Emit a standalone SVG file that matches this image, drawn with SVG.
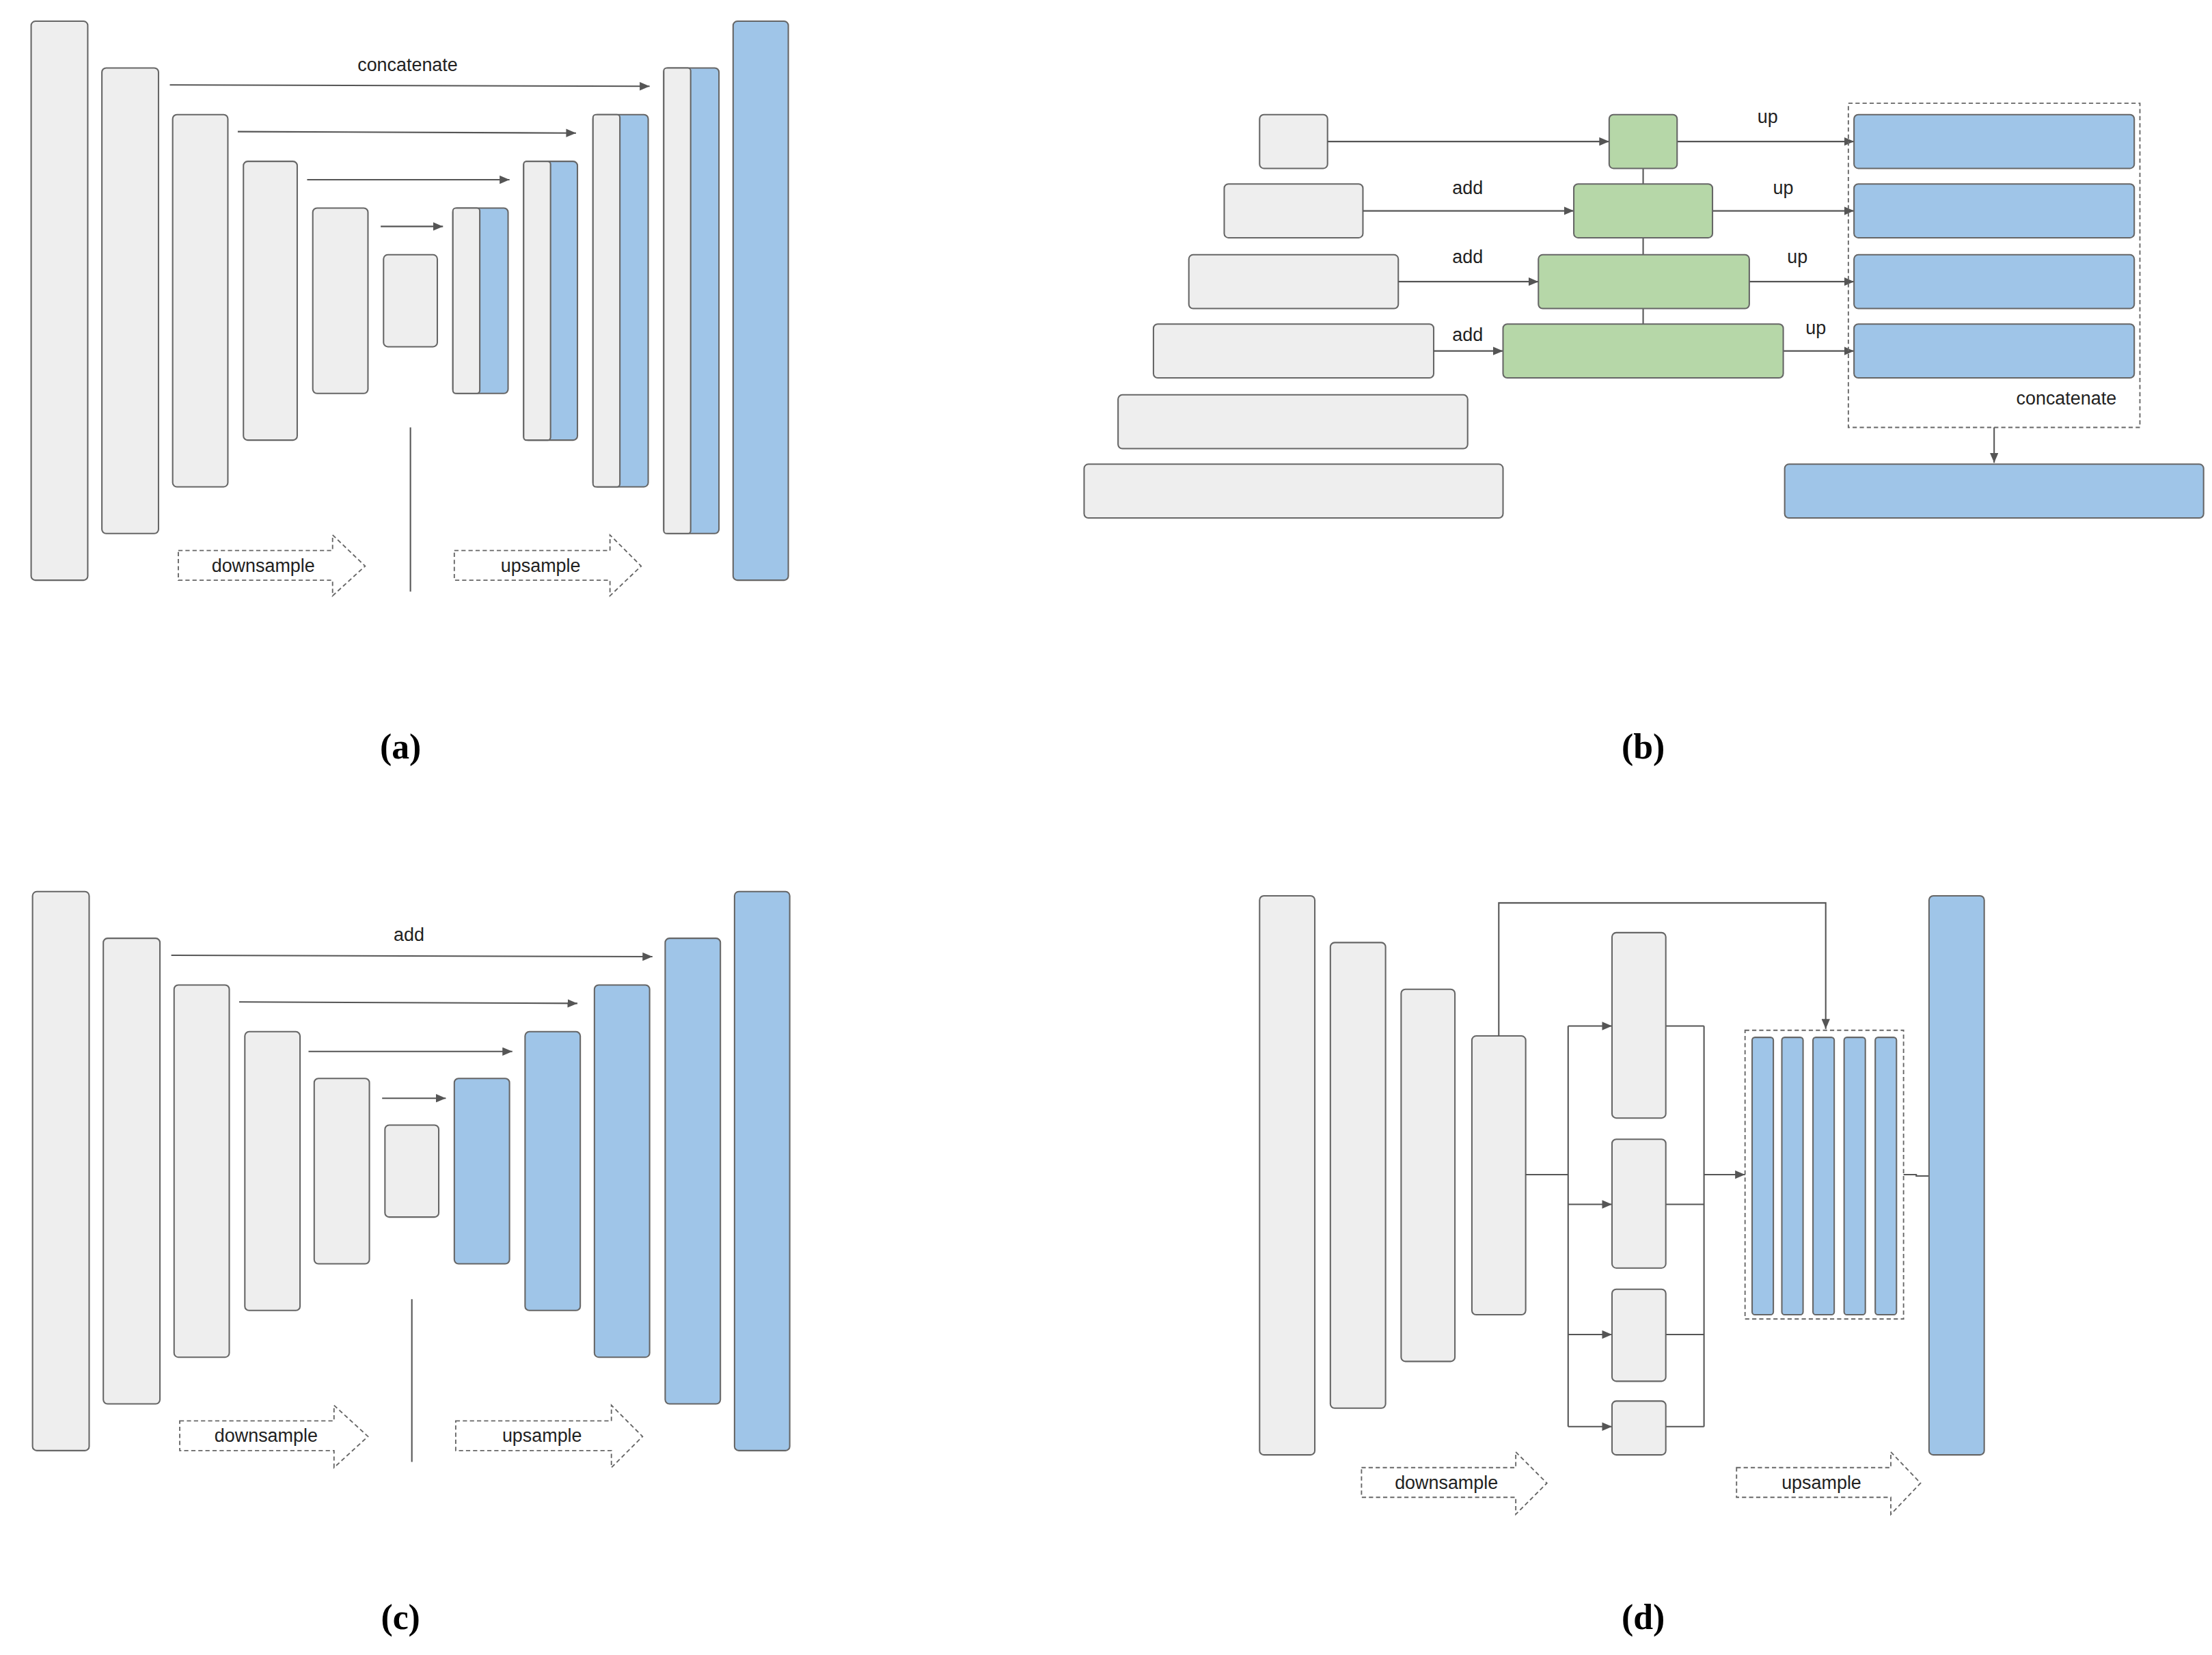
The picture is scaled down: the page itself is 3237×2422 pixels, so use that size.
<svg xmlns="http://www.w3.org/2000/svg" width="3237" height="2422" viewBox="0 0 3237 2422">
<style>
.g{fill:#eeeeee;stroke:#666;stroke-width:1}
.b{fill:#9fc5e8;stroke:#666;stroke-width:1}
.gr{fill:#b6d7a8;stroke:#666;stroke-width:1}
.l{fill:none;stroke:#555;stroke-width:1}
.d{fill:none;stroke:#666;stroke-width:0.9;stroke-dasharray:3,2}
.t{font-family:"Liberation Sans",Arial,sans-serif;font-size:13px;fill:#222;text-anchor:middle}
.c{font-family:"Liberation Serif","Times New Roman",serif;font-size:25px;font-weight:bold;fill:#000;text-anchor:middle}
</style>
<defs>
<marker id="ah" markerWidth="8" markerHeight="6" refX="7" refY="3" orient="auto" markerUnits="userSpaceOnUse"><path d="M0,0 L7,3 L0,6 Z" fill="#555"/></marker>
</defs>
<rect width="3237" height="2422" fill="#fff"/>
<g transform="scale(2.0711)">
<!-- panel a -->
<g id="a-enc">
<rect class="g" x="22" y="15" width="40" height="395" rx="3"/>
<rect class="g" x="72" y="48" width="40" height="329" rx="3"/>
<rect class="g" x="122" y="81" width="39" height="263" rx="3"/>
<rect class="g" x="172" y="114" width="38" height="197" rx="3"/>
<rect class="g" x="221" y="147" width="39" height="131" rx="3"/>
<rect class="g" x="271" y="180" width="38" height="65" rx="3"/>
</g>
<g id="a-dec">
<rect class="b" x="320" y="147" width="39" height="131" rx="3"/><rect class="g" x="320" y="147" width="19" height="131" rx="2"/>
<rect class="b" x="370" y="114" width="38" height="197" rx="3"/><rect class="g" x="370" y="114" width="19" height="197" rx="2"/>
<rect class="b" x="419" y="81" width="39" height="263" rx="3"/><rect class="g" x="419" y="81" width="19" height="263" rx="2"/>
<rect class="b" x="469" y="48" width="39" height="329" rx="3"/><rect class="g" x="469" y="48" width="19" height="329" rx="2"/>
<rect class="b" x="518" y="15" width="39" height="395" rx="3"/>
</g>
<g id="a-conn">
<line class="l" x1="120" y1="60" x2="459" y2="61" marker-end="url(#ah)"/>
<line class="l" x1="168" y1="93" x2="407" y2="94" marker-end="url(#ah)"/>
<line class="l" x1="217" y1="127" x2="360" y2="127" marker-end="url(#ah)"/>
<line class="l" x1="269" y1="160" x2="313" y2="160" marker-end="url(#ah)"/>
<line class="l" x1="290" y1="302" x2="290" y2="418"/>
<text class="t" x="288" y="50">concatenate</text>
<polygon class="d" points="126,389 235,389 235,378 258,400 235,421 235,410 126,410"/>
<text class="t" x="186" y="404">downsample</text>
<polygon class="d" points="321,389 431,389 431,378 453,400 431,421 431,410 321,410"/>
<text class="t" x="382" y="404">upsample</text>
</g>
<text class="c" x="283" y="536">(a)</text>

<!-- panel b -->
<g id="b-enc">
<rect class="g" x="890" y="81" width="48" height="38" rx="3"/>
<rect class="g" x="865" y="130" width="98" height="38" rx="3"/>
<rect class="g" x="840" y="180" width="148" height="38" rx="3"/>
<rect class="g" x="815" y="229" width="198" height="38" rx="3"/>
<rect class="g" x="790" y="279" width="247" height="38" rx="3"/>
<rect class="g" x="766" y="328" width="296" height="38" rx="3"/>
</g>
<g id="b-conn">
<line class="l" x1="1161" y1="119" x2="1161" y2="130"/>
<line class="l" x1="1161" y1="168" x2="1161" y2="180"/>
<line class="l" x1="1161" y1="218" x2="1161" y2="229"/>
<line class="l" x1="938" y1="100" x2="1137" y2="100" marker-end="url(#ah)"/>
<line class="l" x1="963" y1="149" x2="1112" y2="149" marker-end="url(#ah)"/>
<line class="l" x1="988" y1="199" x2="1087" y2="199" marker-end="url(#ah)"/>
<line class="l" x1="1013" y1="248" x2="1062" y2="248" marker-end="url(#ah)"/>
<line class="l" x1="1185" y1="100" x2="1310" y2="100" marker-end="url(#ah)"/>
<line class="l" x1="1210" y1="149" x2="1310" y2="149" marker-end="url(#ah)"/>
<line class="l" x1="1236" y1="199" x2="1310" y2="199" marker-end="url(#ah)"/>
<line class="l" x1="1260" y1="248" x2="1310" y2="248" marker-end="url(#ah)"/>
<line class="l" x1="1409" y1="302" x2="1409" y2="327" marker-end="url(#ah)"/>
<text class="t" x="1037" y="137">add</text>
<text class="t" x="1037" y="186">add</text>
<text class="t" x="1037" y="241">add</text>
<text class="t" x="1249" y="87">up</text>
<text class="t" x="1260" y="137">up</text>
<text class="t" x="1270" y="186">up</text>
<text class="t" x="1283" y="236">up</text>
<rect class="d" x="1306" y="73" width="206" height="229"/>
<text class="t" x="1460" y="286">concatenate</text>
</g>
<g id="b-mid">
<rect class="gr" x="1137" y="81" width="48" height="38" rx="3"/>
<rect class="gr" x="1112" y="130" width="98" height="38" rx="3"/>
<rect class="gr" x="1087" y="180" width="149" height="38" rx="3"/>
<rect class="gr" x="1062" y="229" width="198" height="38" rx="3"/>
</g>
<g id="b-dec">
<rect class="b" x="1310" y="81" width="198" height="38" rx="3"/>
<rect class="b" x="1310" y="130" width="198" height="38" rx="3"/>
<rect class="b" x="1310" y="180" width="198" height="38" rx="3"/>
<rect class="b" x="1310" y="229" width="198" height="38" rx="3"/>
<rect class="b" x="1261" y="328" width="296" height="38" rx="3"/>
</g>
<text class="c" x="1161" y="536">(b)</text>

<!-- panel c -->
<g id="c-enc">
<rect class="g" x="23" y="630" width="40" height="395" rx="3"/>
<rect class="g" x="73" y="663" width="40" height="329" rx="3"/>
<rect class="g" x="123" y="696" width="39" height="263" rx="3"/>
<rect class="g" x="173" y="729" width="39" height="197" rx="3"/>
<rect class="g" x="222" y="762" width="39" height="131" rx="3"/>
<rect class="g" x="272" y="795" width="38" height="65" rx="3"/>
</g>
<g id="c-dec">
<rect class="b" x="321" y="762" width="39" height="131" rx="3"/>
<rect class="b" x="371" y="729" width="39" height="197" rx="3"/>
<rect class="b" x="420" y="696" width="39" height="263" rx="3"/>
<rect class="b" x="470" y="663" width="39" height="329" rx="3"/>
<rect class="b" x="519" y="630" width="39" height="395" rx="3"/>
</g>
<g id="c-conn">
<line class="l" x1="121" y1="675" x2="461" y2="676" marker-end="url(#ah)"/>
<line class="l" x1="169" y1="708" x2="408" y2="709" marker-end="url(#ah)"/>
<line class="l" x1="218" y1="743" x2="362" y2="743" marker-end="url(#ah)"/>
<line class="l" x1="270" y1="776" x2="315" y2="776" marker-end="url(#ah)"/>
<line class="l" x1="291" y1="918" x2="291" y2="1033"/>
<text class="t" x="289" y="665">add</text>
<polygon class="d" points="127,1004 236,1004 236,993 260,1015 236,1037 236,1025 127,1025"/>
<text class="t" x="188" y="1019">downsample</text>
<polygon class="d" points="322,1004 432,1004 432,993 454,1015 432,1037 432,1025 322,1025"/>
<text class="t" x="383" y="1019">upsample</text>
</g>
<text class="c" x="283" y="1151">(c)</text>

<!-- panel d -->
<g id="d-enc">
<rect class="g" x="890" y="633" width="39" height="395" rx="3"/>
<rect class="g" x="940" y="666" width="39" height="329" rx="3"/>
<rect class="g" x="990" y="699" width="38" height="263" rx="3"/>
<rect class="g" x="1040" y="732" width="38" height="197" rx="3"/>
</g>
<g id="d-conn">
<polyline class="l" points="1059,732 1059,638 1290,638 1290,727" marker-end="url(#ah)"/>
<line class="l" x1="1078" y1="830" x2="1108" y2="830"/>
<line class="l" x1="1108" y1="725" x2="1108" y2="1008"/>
<line class="l" x1="1108" y1="725" x2="1139" y2="725" marker-end="url(#ah)"/>
<line class="l" x1="1108" y1="851" x2="1139" y2="851" marker-end="url(#ah)"/>
<line class="l" x1="1108" y1="943" x2="1139" y2="943" marker-end="url(#ah)"/>
<line class="l" x1="1108" y1="1008" x2="1139" y2="1008" marker-end="url(#ah)"/>
<line class="l" x1="1177" y1="725" x2="1204" y2="725"/>
<line class="l" x1="1177" y1="851" x2="1204" y2="851"/>
<line class="l" x1="1177" y1="943" x2="1204" y2="943"/>
<line class="l" x1="1177" y1="1008" x2="1204" y2="1008"/>
<line class="l" x1="1204" y1="725" x2="1204" y2="1008"/>
<line class="l" x1="1204" y1="830" x2="1233" y2="830" marker-end="url(#ah)"/>
<polyline class="l" points="1345,830 1354,830 1354,831 1363,831"/>
<rect class="d" x="1233" y="728" width="112" height="204"/>
<polygon class="d" points="962,1037 1071,1037 1071,1026 1093,1048 1071,1070 1071,1058 962,1058"/>
<text class="t" x="1022" y="1052">downsample</text>
<polygon class="d" points="1227,1037 1336,1037 1336,1026 1357,1048 1336,1070 1336,1058 1227,1058"/>
<text class="t" x="1287" y="1052">upsample</text>
</g>
<g id="d-mid">
<rect class="g" x="1139" y="659" width="38" height="131" rx="3"/>
<rect class="g" x="1139" y="805" width="38" height="91" rx="3"/>
<rect class="g" x="1139" y="911" width="38" height="65" rx="3"/>
<rect class="g" x="1139" y="990" width="38" height="38" rx="3"/>
</g>
<g id="d-dec">
<rect class="b" x="1238" y="733" width="15" height="196" rx="2"/>
<rect class="b" x="1259" y="733" width="15" height="196" rx="2"/>
<rect class="b" x="1281" y="733" width="15" height="196" rx="2"/>
<rect class="b" x="1303" y="733" width="15" height="196" rx="2"/>
<rect class="b" x="1325" y="733" width="15" height="196" rx="2"/>
<rect class="b" x="1363" y="633" width="39" height="395" rx="3"/>
</g>
<text class="c" x="1161" y="1151">(d)</text>
</g>
</svg>
